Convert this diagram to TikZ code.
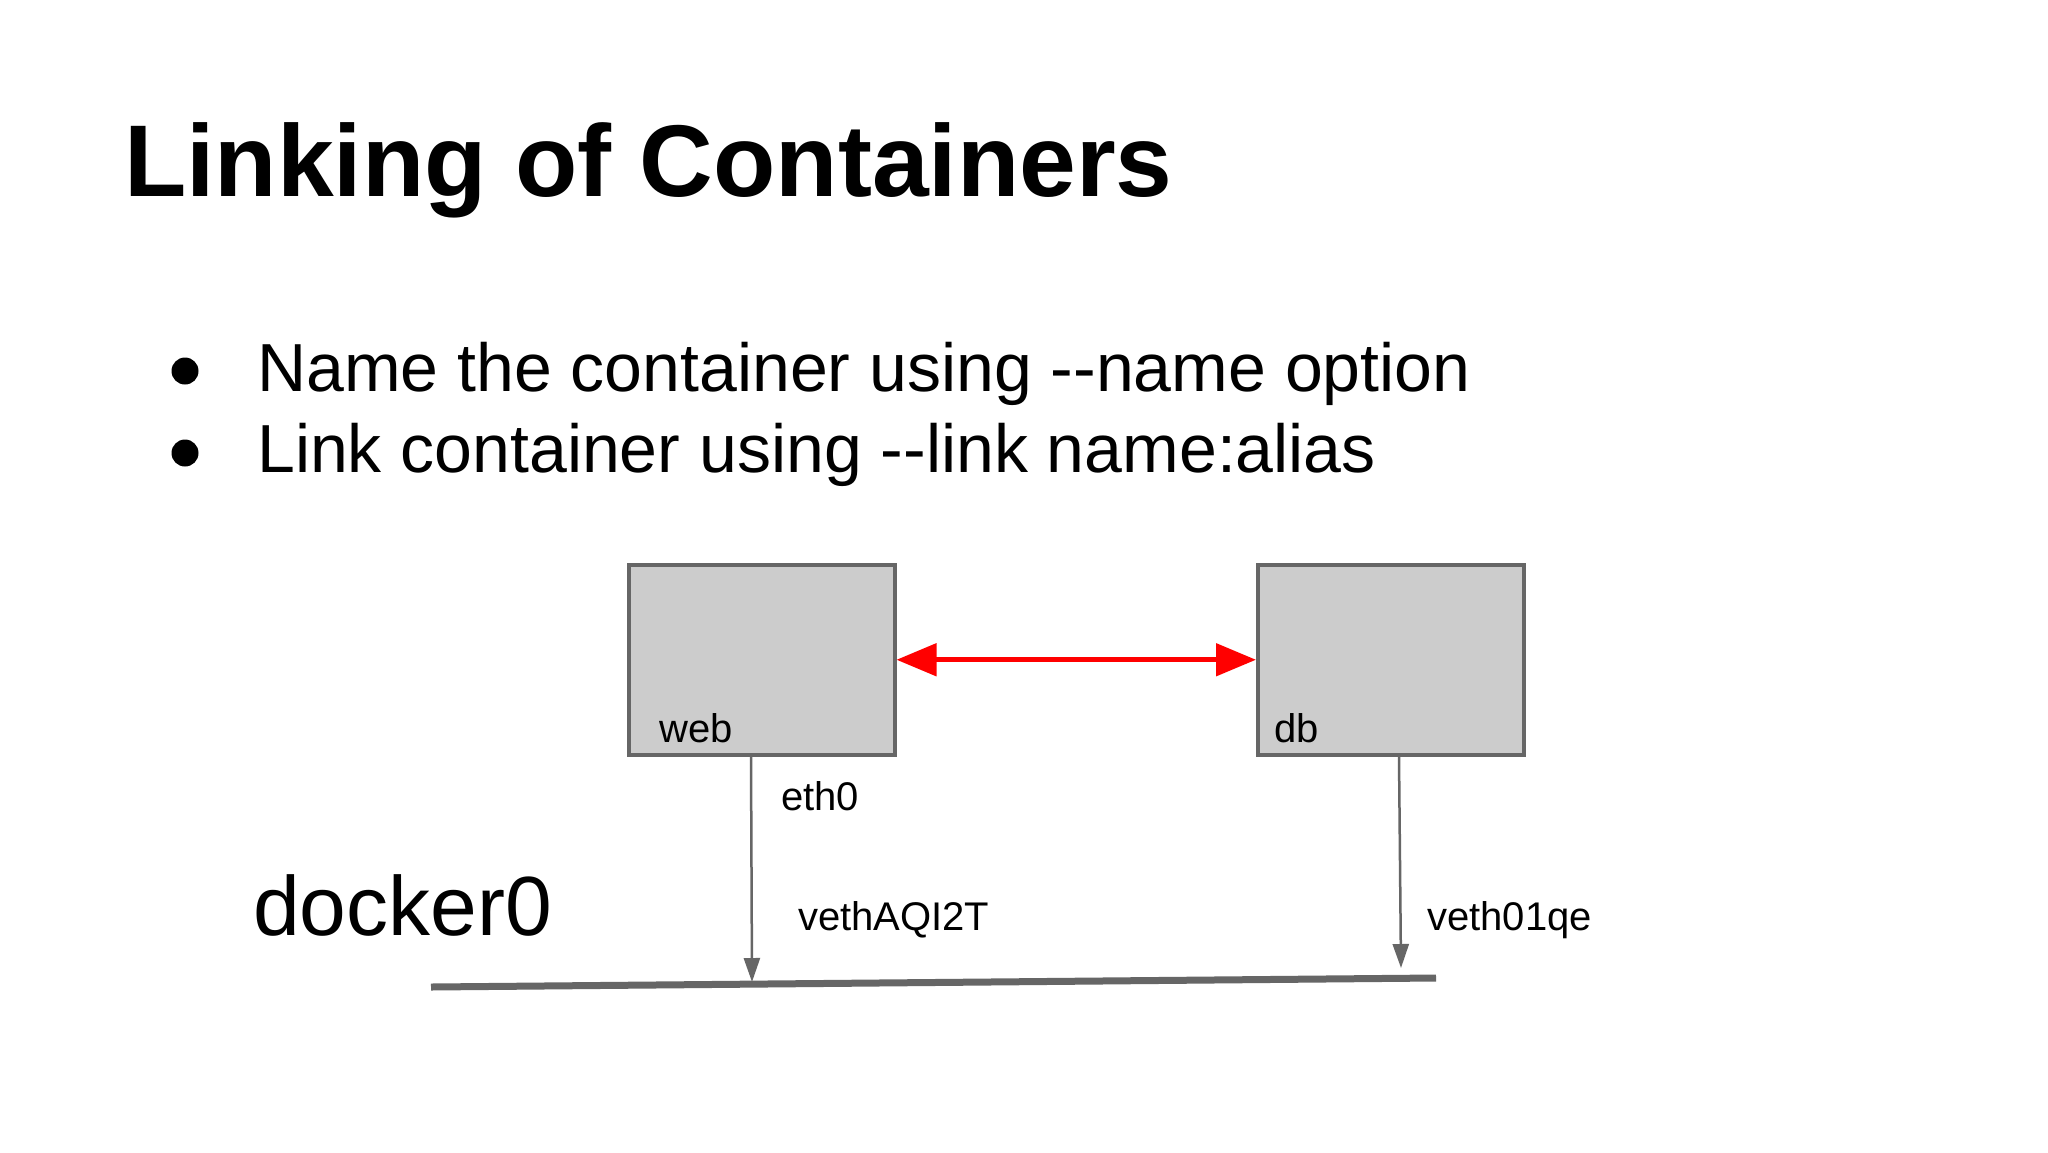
\documentclass[tikz,border=0pt]{standalone}
\usepackage{fontspec}
\setmainfont{Liberation Sans}
\usetikzlibrary{arrows.meta}
\definecolor{boxfill}{HTML}{CCCCCC}
\definecolor{linegray}{HTML}{666666}
\definecolor{linkred}{HTML}{FF0000}
\tikzset{
  txt/.style={anchor=base west, inner sep=0pt, text=black},
  cbox/.style={draw=linegray, line width=3.5pt, fill=boxfill, minimum width=266pt, minimum height=190pt, inner sep=0pt, anchor=north west},
  conn/.style={draw=linegray, line width=2.5pt, -{Triangle[length=24pt,width=16pt]}},
  link/.style={draw=linkred, line width=5pt, {Triangle[length=40pt,width=32pt]}-{Triangle[length=40pt,width=32pt]}},
  bus/.style={draw=linegray, line width=7pt},
  bulletdot/.style={circle, fill=black, inner sep=0pt, minimum size=27pt}
}
\begin{document}
\begin{tikzpicture}[x=1pt,y=-1pt]
\useasboundingbox (0,0) rectangle (2048,1152);
\fill[white] (0,0) rectangle (2048,1152);
% title
\node[txt, font=\fontsize{102}{120}\selectfont\bfseries] (title) at (124,196) {Linking of Containers};
% bullets
\node[bulletdot] (d1) at (185,371) {};
\node[bulletdot] (d2) at (185,453) {};
\node[txt, font=\fontsize{68}{80}\selectfont] (b1) at (257,391) {Name the container using -{}-name option};
\node[txt, font=\fontsize{68}{80}\selectfont] (b2) at (257,472) {Link container using -{}-link name:alias};
% boxes
\node[cbox] (web) at (627,563) {};
\node[cbox] (db) at (1256,563) {};
\node[txt, font=\fontsize{40}{48}\selectfont] (weblbl) at (659,742) {web};
\node[txt, font=\fontsize{40}{48}\selectfont] (dblbl) at (1274,742) {db};
% link arrow
\draw[link] (web.east) -- (db.west);
% bus
\coordinate (busL) at (431,987);
\coordinate (busR) at (1436,978);
\draw[bus] (busL) -- (busR);
\coordinate (webtip) at (752,982);
\coordinate (dbtip) at (1401,968);
\draw[conn] (web.south -| 751,0) -- (webtip);
\draw[conn] (db.south -| 1399,0) -- (dbtip);
% labels
\node[txt, font=\fontsize{40}{48}\selectfont] (eth) at (781,810) {eth0};
\node[txt, font=\fontsize{40}{48}\selectfont] (v1) at (798,930) {vethAQI2T};
\node[txt, font=\fontsize{40}{48}\selectfont] (v2) at (1427,930) {veth01qe};
\node[txt, font=\fontsize{84}{96}\selectfont] (dock) at (253,935) {docker0};
\end{tikzpicture}
\end{document}
